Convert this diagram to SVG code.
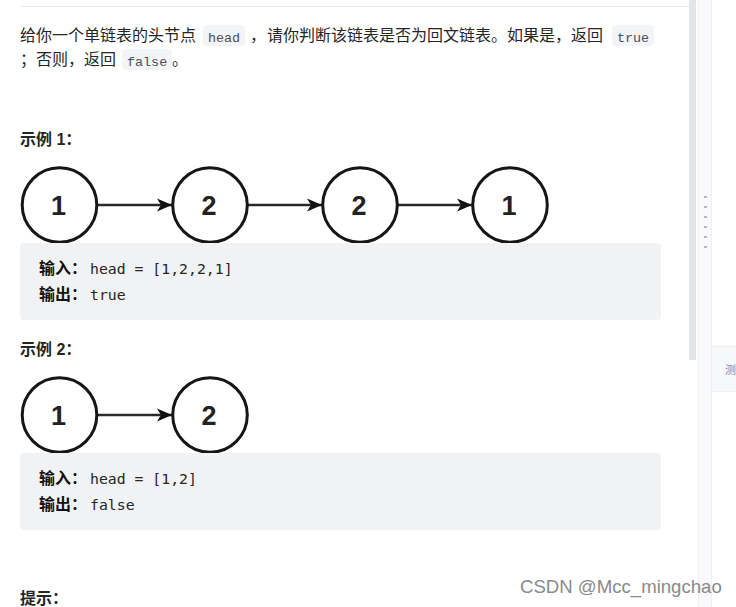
<svg xmlns="http://www.w3.org/2000/svg" width="736" height="607" viewBox="0 0 736 607">
<style>
text{font-family:"Noto Sans CJK SC","Liberation Sans",sans-serif}
.p{font-size:16px;fill:#262626}
.c{font-family:"Liberation Mono","DejaVu Sans Mono",monospace;font-size:13.4px;fill:#4a4f58}
.h{font-size:16px;font-weight:700;fill:#262626;font-family:"Liberation Sans","Noto Sans CJK SC",sans-serif}
.m{font-family:"DejaVu Sans Mono","Liberation Mono",monospace;font-size:14.8px;fill:#262626}
.b{font-size:16px;font-weight:700;fill:#111}
.n circle{fill:#fff;stroke:#161616;stroke-width:3}
.n text{font-family:"Liberation Sans",sans-serif;font-size:27px;font-weight:700;fill:#222;text-anchor:middle}
.l{stroke:#2a2a2a;stroke-width:2.5;fill:none;marker-end:url(#a)}
.i{fill:#f3f4f6}
.g{fill:#f1f2f4}
</style>
<defs><marker id="a" markerUnits="userSpaceOnUse" markerWidth="16" markerHeight="14" refX="15" refY="7" orient="auto"><path d="M0 0.5L15 7L0 13.5L4 7Z" fill="#111"/></marker></defs>
<rect width="736" height="607" fill="#fff"/>
<rect x="20" y="6" width="673" height="1" fill="#e8e9eb"/>
<rect x="689" y="0" width="7" height="360" fill="#e4e5e8"/>
<rect x="699" y="0" width="12" height="607" fill="#f9f9fb"/>
<rect x="698" y="0" width="1" height="607" fill="#f0f0f2"/>
<rect x="711" y="0" width="1" height="607" fill="#f0f0f2"/>
<g fill="#b5b7bd"><rect x="704" y="196" width="3" height="2"/><rect x="704" y="206" width="3" height="2"/><rect x="704" y="216" width="3" height="2"/><rect x="704" y="226" width="3" height="2"/><rect x="704" y="236" width="3" height="2"/><rect x="704" y="246" width="3" height="2"/></g>
<rect x="712" y="346" width="24" height="45" fill="#f7f8fa"/>
<rect x="712" y="346" width="24" height="1" fill="#eeeff1"/><rect x="712" y="391" width="24" height="1" fill="#eeeff1"/>
<text x="725" y="374" fill="#7c8cb8" style="font-size:11px">测</text>

<text class="p" x="20" y="41">给你一个单链表的头节点</text>
<rect class="i" x="203" y="25" width="42" height="21" rx="4"/>
<text class="c" x="208" y="42">head</text>
<text class="p" x="250" y="41">，</text>
<text class="p" x="267" y="41">请你判断该链表是否为回文链表。如果是，返回</text>
<rect class="i" x="612" y="25" width="42" height="21" rx="4"/>
<text class="c" x="617" y="42">true</text>
<text class="p" x="20" y="65">；否则，返回</text>
<rect class="i" x="122" y="49" width="50" height="21" rx="4"/>
<text class="c" x="127" y="66">false</text>
<text class="p" x="172" y="65">。</text>

<text class="h" x="20" y="145">示例 1：</text>
<g id="connectors1">
<path class="l" d="M98 205H172"/><path class="l" d="M248 205H322"/><path class="l" d="M398 205H472"/>
</g>
<g id="n1" class="n"><circle cx="59.5" cy="205" r="37.3"/><text x="58.5" y="215">1</text></g>
<g id="n2" class="n"><circle cx="210" cy="205" r="37.3"/><text x="209" y="215">2</text></g>
<g id="n3" class="n"><circle cx="360" cy="205" r="37.3"/><text x="359" y="215">2</text></g>
<g id="n4" class="n"><circle cx="510" cy="205" r="37.3"/><text x="509" y="215">1</text></g>
<rect class="g" x="20" y="243" width="641" height="77" rx="4"/>
<text class="b" x="39" y="274">输入：</text><text class="m" x="90" y="274">head = [1,2,2,1]</text>
<text class="b" x="39" y="300">输出：</text><text class="m" x="90" y="300">true</text>

<text class="h" x="20" y="355">示例 2：</text>
<g id="connectors2"><path class="l" d="M98 415H172"/></g>
<g id="n5" class="n"><circle cx="59.5" cy="415" r="37.3"/><text x="58.5" y="425">1</text></g>
<g id="n6" class="n"><circle cx="210" cy="415" r="37.3"/><text x="209" y="425">2</text></g>
<rect class="g" x="20" y="453" width="641" height="77" rx="4"/>
<text class="b" x="39" y="484">输入：</text><text class="m" x="90" y="484">head = [1,2]</text>
<text class="b" x="39" y="510">输出：</text><text class="m" x="90" y="510">false</text>

<text class="h" x="20" y="604">提示：</text>
<text x="520" y="593" style="font-family:'Liberation Sans',sans-serif;font-size:18.6px" fill="#8a8a8a">CSDN @Mcc_mingchao</text>
</svg>
